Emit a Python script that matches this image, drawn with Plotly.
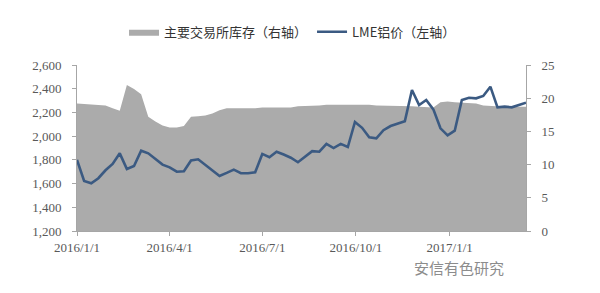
import pandas as pd
import plotly.graph_objects as go

dates = pd.date_range(start="2016-01-01", periods=64, freq="7D")

lme_price = [1800, 1622, 1603, 1645, 1712, 1765, 1855, 1723, 1748, 1877,
             1855, 1806, 1760, 1737, 1700, 1704, 1795, 1805, 1758, 1712,
             1664, 1690, 1718, 1688, 1687, 1695, 1850, 1822, 1869, 1845,
             1818, 1780, 1830, 1873, 1869, 1935, 1900, 1935, 1908, 2120,
             2070, 1990, 1982, 2050, 2085, 2105, 2125, 2389, 2263, 2305,
             2226, 2066, 2007, 2046, 2305, 2324, 2319, 2339, 2417, 2243,
             2249, 2243, 2260, 2282]

stock = [19.2, 19.1, 19.0, 19.0, 18.9, 18.5, 18.1, 22.0, 21.4, 20.6,
         17.2, 16.5, 15.9, 15.6, 15.6, 15.8, 17.2, 17.3, 17.4, 17.7,
         18.2, 18.5, 18.5, 18.5, 18.4, 18.5, 18.6, 18.6, 18.7, 18.7,
         18.6, 18.8, 18.8, 18.9, 18.9, 19.0, 19.0, 19.0, 19.1, 19.1,
         19.0, 19.0, 18.9, 18.9, 18.9, 18.8, 18.8, 18.8, 18.7, 18.7,
         18.6, 19.4, 19.5, 19.4, 19.3, 19.3, 19.2, 18.9, 18.8, 18.7,
         18.7, 18.7, 18.7, 18.7]

tick_dates = ["2016-01-01", "2016-04-01", "2016-07-01", "2016-10-01", "2017-01-01"]
tick_labels = ["2016/1/1", "2016/4/1", "2016/7/1", "2016/10/1", "2017/1/1"]

left_ticks = [1200, 1400, 1600, 1800, 2000, 2200, 2400, 2600]
right_ticks = [0, 5, 10, 15, 20, 25]

num_font = dict(family="Liberation Serif, Times New Roman, serif", size=13, color="#595959")
axis_col = "#a6a6a6"

fig = go.Figure()
fig.add_trace(go.Scatter(
    x=dates, y=stock, name="主要交易所库存（右轴）", mode="lines",
    line=dict(width=0, color="#ababab"), fill="tozeroy", fillcolor="#ababab",
    yaxis="y"))
fig.add_trace(go.Scatter(
    x=dates, y=lme_price, name="LME铝价（左轴）", mode="lines",
    line=dict(width=2.6, color="#3b5a82"), yaxis="y2"))

fig.update_layout(
    width=600, height=293,
    margin=dict(l=77, r=74, t=65, b=62),
    paper_bgcolor="white", plot_bgcolor="white",
    showlegend=True,
    legend=dict(orientation="h", x=0.48, xanchor="center", y=1.2, yanchor="middle",
                font=dict(family="Noto Sans CJK SC", size=13, color="#333333"),
                itemwidth=30, tracegroupgap=0),
    xaxis=dict(type="date", range=[dates[0], dates[-1]],
               tickvals=tick_dates, ticktext=tick_labels,
               showline=True, linecolor=axis_col, linewidth=1,
               ticks="outside", ticklen=4, tickcolor=axis_col,
               showgrid=False, zeroline=False, tickfont=num_font),
    yaxis=dict(side="right", range=[0, 25], tickvals=right_ticks,
               showline=True, linecolor=axis_col, linewidth=1,
               ticks="outside", ticklen=4, tickcolor=axis_col,
               showgrid=False, zeroline=False, tickfont=num_font, ticklabelstandoff=8),
    yaxis2=dict(side="left", overlaying="y", range=[1200, 2600], tickvals=left_ticks,
                tickformat=",", showline=True, linecolor=axis_col, linewidth=1,
                ticks="outside", ticklen=4, tickcolor=axis_col,
                showgrid=False, zeroline=False, tickfont=num_font, ticklabelstandoff=8),
    annotations=[dict(text="安信有色研究", xref="paper", yref="paper",
                      x=0.955, y=-0.22, xanchor="right", yanchor="middle",
                      showarrow=False,
                      font=dict(family="Noto Sans CJK SC", size=15, color="#8c8c8c"))],
)

fig.write_html("out.html")
